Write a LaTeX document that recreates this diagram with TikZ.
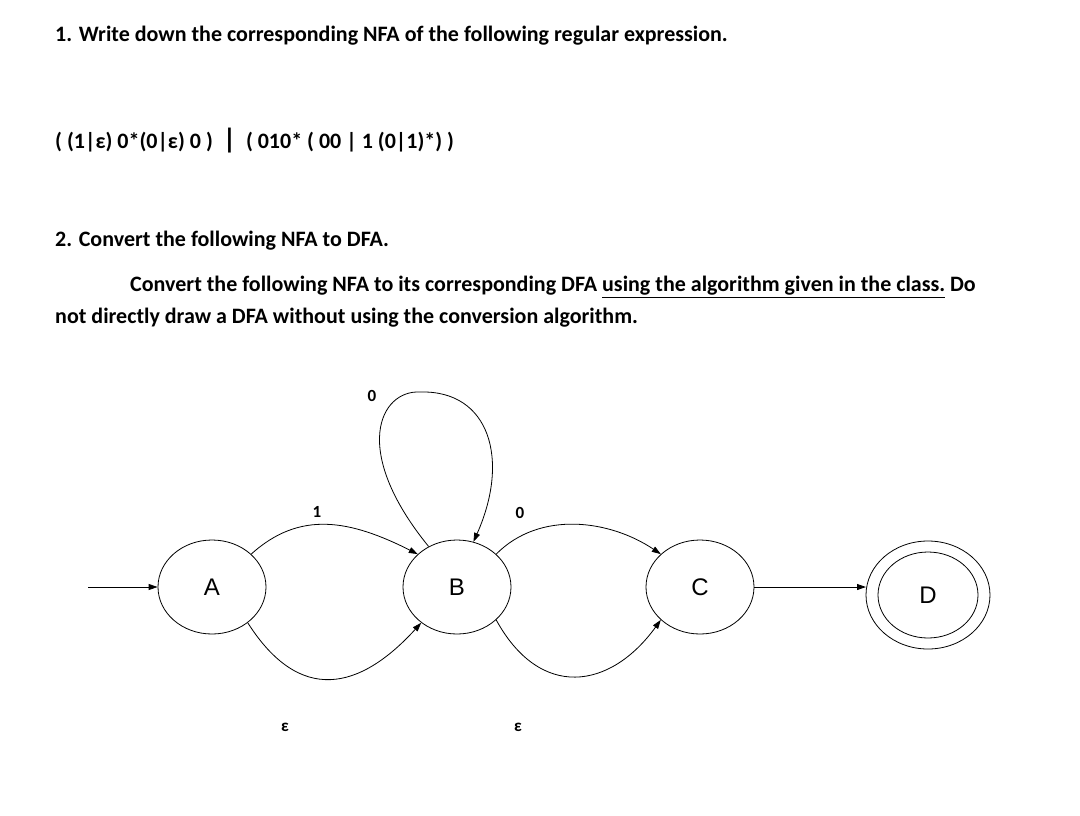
\documentclass[tikz,border=0pt]{standalone}
\usepackage{fontspec}
\setmainfont{Carlito}
\newfontfamily\arialf{Liberation Sans}
\usetikzlibrary{arrows.meta,shapes.geometric}
\begin{document}
\begin{tikzpicture}[x=1pt,y=-1pt,
  st/.style={draw,ellipse,line width=0.8pt,minimum width=108pt,minimum height=94pt,inner sep=0pt,font=\arialf\fontsize{24}{26}\selectfont},
  tr/.style={-{Triangle[length=9pt,width=6pt]},line width=0.8pt},
  lb/.style={font=\bfseries\fontsize{17}{19}\selectfont},
  txt/.style={anchor=west,font=\bfseries\fontsize{22}{26}\selectfont,inner sep=0pt}]
\useasboundingbox (0,0) rectangle (1080,815);
\node[txt] (t1) at (55,36) {1. Write down the corresponding NFA of the following regular expression.};
\node[txt] (t2) at (55,141) {( (1|ε) 0*(0|ε) 0 ) \ {\fontsize{28}{30}\selectfont|} \ ( 010* ( 00 | 1 (0|1)*) )};
\node[txt] (t3) at (55,241) {2. Convert the following NFA to DFA.};
\node[txt] (t4) at (130,287) {Convert the following NFA to its corresponding DFA \underline{using the algorithm given in the class.} Do};
\node[txt] (t5) at (55,318) {not directly draw a DFA without using the conversion algorithm.};
\node[st] (A) at (212,587) {A};
\node[st] (B) at (457,587) {B};
\node[st] (C) at (700,587) {C};
\node[st,minimum width=100pt,minimum height=86pt] (D) at (928,595) {D};
\draw[line width=0.8pt] (928,595) ellipse (62pt and 54pt);
\coordinate (s) at (88,587);
\draw[tr] (s) -- (A);
\draw[tr] (A.40) .. controls (300,510) and (350,520) .. (B.140);
\draw[tr] (A.-45) .. controls (300,705) and (360,690) .. (B.-135);
\draw[tr] (B.125) .. controls (350,450) and (380,390) .. (420,392) .. controls (490,390) and (510,460) .. (B.70);
\draw[tr] (B.40) .. controls (540,510) and (610,520) .. (C.140);
\draw[tr] (B.-40) .. controls (540,700) and (610,690) .. (C.-140);
\coordinate (d) at (866,587);
\draw[tr] (C.0) -- (d);
\node[lb] (l1) at (317,512) {1};
\node[lb] (l0) at (372,396) {0};
\node[lb] (l2) at (520,513) {0};
\node[lb] (e1) at (285,727) {ε};
\node[lb] (e2) at (518,727) {ε};
\end{tikzpicture}
\end{document}
